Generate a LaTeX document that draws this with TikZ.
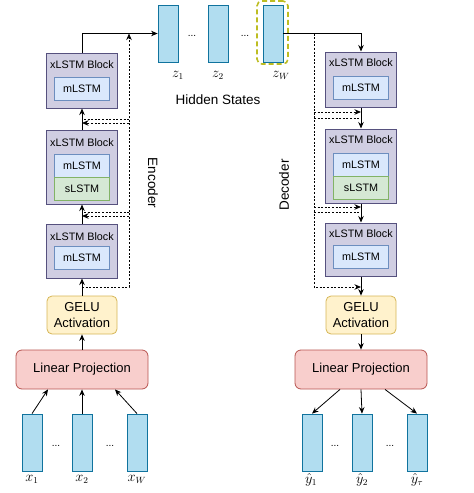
\documentclass[tikz,border=0pt]{standalone}
\usepackage{fontspec}
\setmainfont{Liberation Sans}
\usetikzlibrary{arrows.meta}
\definecolor{barfill}{HTML}{B1DDF0}
\definecolor{barline}{HTML}{10739E}
\definecolor{blockfill}{HTML}{D0CEE2}
\definecolor{blockline}{HTML}{56517E}
\definecolor{mfill}{HTML}{DAE8FC}
\definecolor{mline}{HTML}{6C8EBF}
\definecolor{sfill}{HTML}{D5E8D4}
\definecolor{sline}{HTML}{82B366}
\definecolor{gfill}{HTML}{FFF2CC}
\definecolor{gline}{HTML}{D6B656}
\definecolor{lfill}{HTML}{F8CECC}
\definecolor{lline}{HTML}{B85450}
\definecolor{hiline}{HTML}{BDBD22}
\tikzset{
  bar/.style={draw=barline, fill=barfill, line width=0.8pt, minimum width=20, minimum height=57, inner sep=0},
  xblock/.style={draw=blockline, fill=blockfill, line width=1pt, minimum width=71, inner sep=0},
  mcell/.style={draw=mline, fill=mfill, line width=0.8pt, minimum width=55, minimum height=23, inner sep=0, font=\fontsize{10.8}{12}\selectfont},
  scell/.style={mcell, draw=sline, fill=sfill},
  blabel/.style={inner sep=0, font=\fontsize{10.8}{12}\selectfont},
  gelu/.style={draw=gline, fill=gfill, line width=0.8pt, rounded corners=5, minimum width=70, minimum height=38, inner sep=0, align=center, font=\fontsize{13}{16}\selectfont},
  linproj/.style={draw=lline, fill=lfill, line width=0.8pt, rounded corners=6, minimum width=132, minimum height=39, inner sep=0, font=\fontsize{13}{15}\selectfont},
  vlabel/.style={inner sep=0, font=\fontsize{13.5}{15}\selectfont},
  title/.style={inner sep=0, font=\fontsize{13.5}{16}\selectfont},
  arr/.style={-{Stealth[length=6.5pt,width=5.5pt]}, line width=0.8pt},
  skip/.style={line width=0.8pt, dash pattern=on 2pt off 1.6pt},
  hilite/.style={draw=hiline, line width=1.6pt, dash pattern=on 5pt off 3pt, rounded corners=5, minimum width=31, minimum height=63},
}
\begin{document}
\begin{tikzpicture}[x=1pt,y=-1pt]
        \useasboundingbox (0,0) rectangle (474,493);
        % input series and hidden states
        \node[bar] (x1) at ( 32,442.5) {};
        \node[bar] (x2) at ( 82,442.5) {};
        \node[bar] (xW) at (137,442.5) {};
        \node[bar] (z1) at (168, 33.5) {};
        \node[bar] (z2) at (218, 33.5) {};
        \node[bar] (zW) at (273, 33.5) {};
        \node[bar] (y1) at (312,442.5) {};
        \node[bar] (y2) at (362,442.5) {};
        \node[bar] (yT) at (417,442.5) {};
        \node[hilite] (zWbox) at (272.5,32.5) {};
        % labels under the bars
        \node[vlabel] (x1lab) at ( 32,479) {$x_1$};
        \node[vlabel] (x2lab) at ( 82,479) {$x_2$};
        \node[vlabel] (xWlab) at (137,479) {$x_W$};
        \node[vlabel] (z1lab) at (178, 75) {$z_1$};
        \node[vlabel] (z2lab) at (218, 75) {$z_2$};
        \node[vlabel] (zWlab) at (281, 75) {$z_W$};
        \node[vlabel] (y1lab) at (311,480) {$\hat{y}_1$};
        \node[vlabel] (y2lab) at (362,480) {$\hat{y}_2$};
        \node[vlabel] (yTlab) at (417,480) {$\hat{y}_\tau$};
        \node[inner sep=0] (xdots1) at ( 56,446) {...};
        \node[inner sep=0] (xdots2) at (110,446) {...};
        \node[inner sep=0] (zdots1) at (192, 36) {...};
        \node[inner sep=0] (zdots2) at (245, 36) {...};
        \node[inner sep=0] (ydots1) at (335,446) {...};
        \node[inner sep=0] (ydots2) at (390,446) {...};
        \node[title] (hidden) at (218,100) {Hidden States};
        \node[title, rotate=-90] (enclab) at (153,183) {Encoder};
        \node[title, rotate=90]  (declab) at (284,185) {Decoder};
        % encoder
        \node[linproj] (lin)  at (82,369.5) {Linear Projection};
        \node[gelu]    (gelu) at (82,315) {GELU\\Activation};
        \node[xblock, minimum height=54] (encA) at (82,251) {};
        \node[blabel] (encAt) at (82,237) {xLSTM Block};
        \node[mcell]  (encAm) at (82,258) {mLSTM};
        \node[xblock, minimum height=74] (encB) at (82,167) {};
        \node[blabel] (encBt) at (82,143) {xLSTM Block};
        \node[mcell]  (encBm) at (82,165.5) {mLSTM};
        \node[scell]  (encBs) at (82,188.5) {sLSTM};
        \node[xblock, minimum height=55] (encC) at (82,80.5) {};
        \node[blabel] (encCt) at (82,65) {xLSTM Block};
        \node[mcell]  (encCm) at (82,88.5) {mLSTM};
        % decoder
        \node[linproj] (lin2)  at (361,369.5) {Linear Projection};
        \node[gelu]    (gelu2) at (361,315) {GELU\\Activation};
        \node[xblock, minimum height=55] (decA) at (361,79.5) {};
        \node[blabel] (decAt) at (361,63) {xLSTM Block};
        \node[mcell]  (decAm) at (361,87.5) {mLSTM};
        \node[xblock, minimum height=74] (decB) at (361,166) {};
        \node[blabel] (decBt) at (361,140) {xLSTM Block};
        \node[mcell]  (decBm) at (361,164.5) {mLSTM};
        \node[scell]  (decBs) at (361,187.5) {sLSTM};
        \node[xblock, minimum height=53] (decC) at (361,249.5) {};
        \node[blabel] (decCt) at (361,234) {xLSTM Block};
        \node[mcell]  (decCm) at (361,257) {mLSTM};
        % coordinates for the skip lines
        \coordinate (etap)   at ( 82,287);
        \coordinate (ebus)   at (129,287);
        \coordinate (etop)   at (129,33.5);
        \coordinate (eout1)  at ( 84,119);
        \coordinate (ebus1a) at (129,119);
        \coordinate (ebus1b) at (129,123);
        \coordinate (ein1)   at ( 82,123);
        \coordinate (eout2)  at ( 84,212);
        \coordinate (ebus2a) at (129,212);
        \coordinate (ebus2b) at (129,216);
        \coordinate (ein2)   at ( 82,216);
        \coordinate (dtop)   at (314,33.5);
        \coordinate (dbus)   at (314,287);
        \coordinate (dtap)   at (361,287);
        \coordinate (dbus1a) at (314,112);
        \coordinate (din1)   at (361,112);
        \coordinate (dbus1b) at (314,118);
        \coordinate (dout1)  at (359,118);
        \coordinate (dbus2a) at (314,207);
        \coordinate (din2)   at (361,207);
        \coordinate (dbus2b) at (314,212);
        \coordinate (dout2)  at (359,212);
        % drawing the encoder path
        \draw[arr] (x1.north) -- ([xshift=-34]lin.south);
        \draw[arr] (x2.north) -- (lin.south);
        \draw[arr] (xW.north) -- ([xshift=33]lin.south);
        \draw[arr] (lin)  -- (gelu);
        \draw[arr] (gelu) -- (encA);
        \draw[arr] (encA) -- (encB);
        \draw[arr] (encB) -- (encC);
        \draw[arr] (encC.north) |- (z1.west);
        \draw[skip, arr] (etap) -- (ebus) -- (etop);
        \draw[skip] (eout1) -- (ebus1a);
        \draw[skip, arr] (ebus1b) -- (ein1);
        \draw[skip] (eout2) -- (ebus2a);
        \draw[skip, arr] (ebus2b) -- (ein2);
        % drawing the decoder path
        \draw[arr] (zW.east) -| (decA.north);
        \draw[arr] (decA) -- (decB);
        \draw[arr] (decB) -- (decC);
        \draw[arr] (decC) -- (gelu2);
        \draw[arr] (gelu2) -- (lin2);
        \draw[arr] ([xshift=-21]lin2.south) -- (y1.north);
        \draw[arr] (lin2.south) -- (y2.north);
        \draw[arr] ([xshift=24]lin2.south) -- (yT.north);
        \draw[skip, arr] (dtop) -- (dbus) -- (dtap);
        \draw[skip, arr] (dbus1a) -- (din1);
        \draw[skip] (dbus1b) -- (dout1);
        \draw[skip, arr] (dbus2a) -- (din2);
        \draw[skip] (dbus2b) -- (dout2);
\end{tikzpicture}
\end{document}
